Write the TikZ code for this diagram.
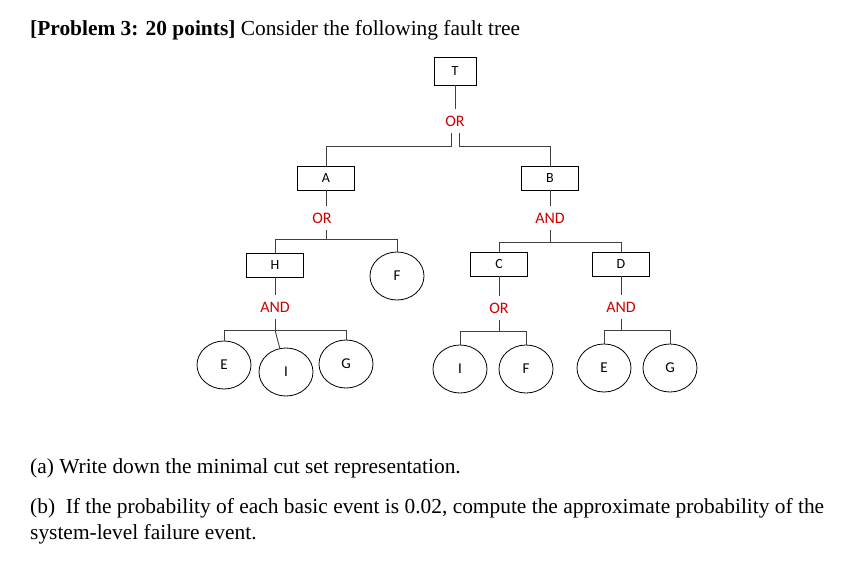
\documentclass[tikz,border=0pt]{standalone}
\usepackage{fontspec}
\usetikzlibrary{shapes.geometric}
\setmainfont{Liberation Serif}
\newfontfamily\tree{Carlito}
\begin{document}
\begin{tikzpicture}[x=1pt,y=-1pt,
  box/.style={draw,line width=0.8pt,minimum width=57pt,minimum height=24pt,inner sep=0pt,font=\tree\fontsize{14}{15}\selectfont},
  ev/.style={draw,line width=0.8pt,ellipse,minimum width=54pt,minimum height=48pt,inner sep=0pt,font=\tree\fontsize{15}{16}\selectfont},
  gate/.style={text=red!80!black,inner sep=0pt,minimum height=24pt,font=\tree\fontsize{16}{17}\selectfont},
  ln/.style={draw=black!75,line width=0.9pt},
  txt/.style={anchor=base west,inner sep=0pt,font=\fontsize{21.4}{24}\selectfont}]
\useasboundingbox[fill=white] (0,0) rectangle (855,563);
\node[box,minimum width=42pt,minimum height=28pt] (T) at (455,71) {T};
\node[gate] (g0) at (455,121) {OR};
\node[box] (A) at (326,178) {A};
\node[box] (B) at (550,178) {B};
\node[gate] (g1) at (322,218) {OR};
\node[gate] (g2) at (550,218) {AND};
\node[box] (H) at (275,265) {H};
\node[ev] (F1) at (397,276) {F};
\node[box] (C) at (499,264) {C};
\node[box] (D) at (621,264) {D};
\node[gate] (g3) at (275,307) {AND};
\node[gate] (g4) at (499,308) {OR};
\node[gate] (g5) at (621,307) {AND};
\node[ev] (E1) at (224,365) {E};
\node[ev] (I1) at (286,372) {I};
\node[ev] (G1) at (346,364) {G};
\node[ev] (I2) at (460,369) {I};
\node[ev] (F2) at (526,369) {F};
\node[ev] (E2) at (604,368) {E};
\node[ev] (G2) at (670,368) {G};
\path[ln] (T) -- (g0.north);
\path[ln] (g0.south)++(-4,0) -- ++(0,13) -| (A);
\path[ln] (g0.south)++(4,0) -- ++(0,13) -| (B);
\path[ln] (A) -- (g1.north -| A);
\path[ln] (B) -- (g2.north);
\path[ln] (g1.south -| A) -- (326,239) coordinate (j1);
\path[ln] (j1) -| (H); \path[ln] (j1) -| (F1);
\path[ln] (g2.south) -- (550,242) coordinate (j2);
\path[ln] (j2) -| (C); \path[ln] (j2) -| (D);
\path[ln] (H) -- (g3.north);
\path[ln] (C) -- (g4.north);
\path[ln] (D) -- (g5.north);
\path[ln] (g3.south) -- (275,330) coordinate (j3);
\path[ln] (j3) -| (E1); \path[ln] (j3) -| (G1); \path[ln] (j3) -- (I1);
\path[ln] (g4.south) -- (499,331) coordinate (j4);
\path[ln] (j4) -| (I2); \path[ln] (j4) -| (F2);
\path[ln] (g5.south) -- (621,330) coordinate (j5);
\path[ln] (j5) -| (E2); \path[ln] (j5) -| (G2);
\node[txt] (t0) at (30,35) {\textbf{[Problem 3: 20 points]} Consider the following fault tree};
\node[txt] (ta) at (30,473) {(a) Write down the minimal cut set representation.};
\node[txt] (tb) at (30,513) {(b)\ \ If the probability of each basic event is 0.02, compute the approximate probability of the};
\node[txt] (tc) at (30,539) {system-level failure event.};
\end{tikzpicture}
\end{document}
